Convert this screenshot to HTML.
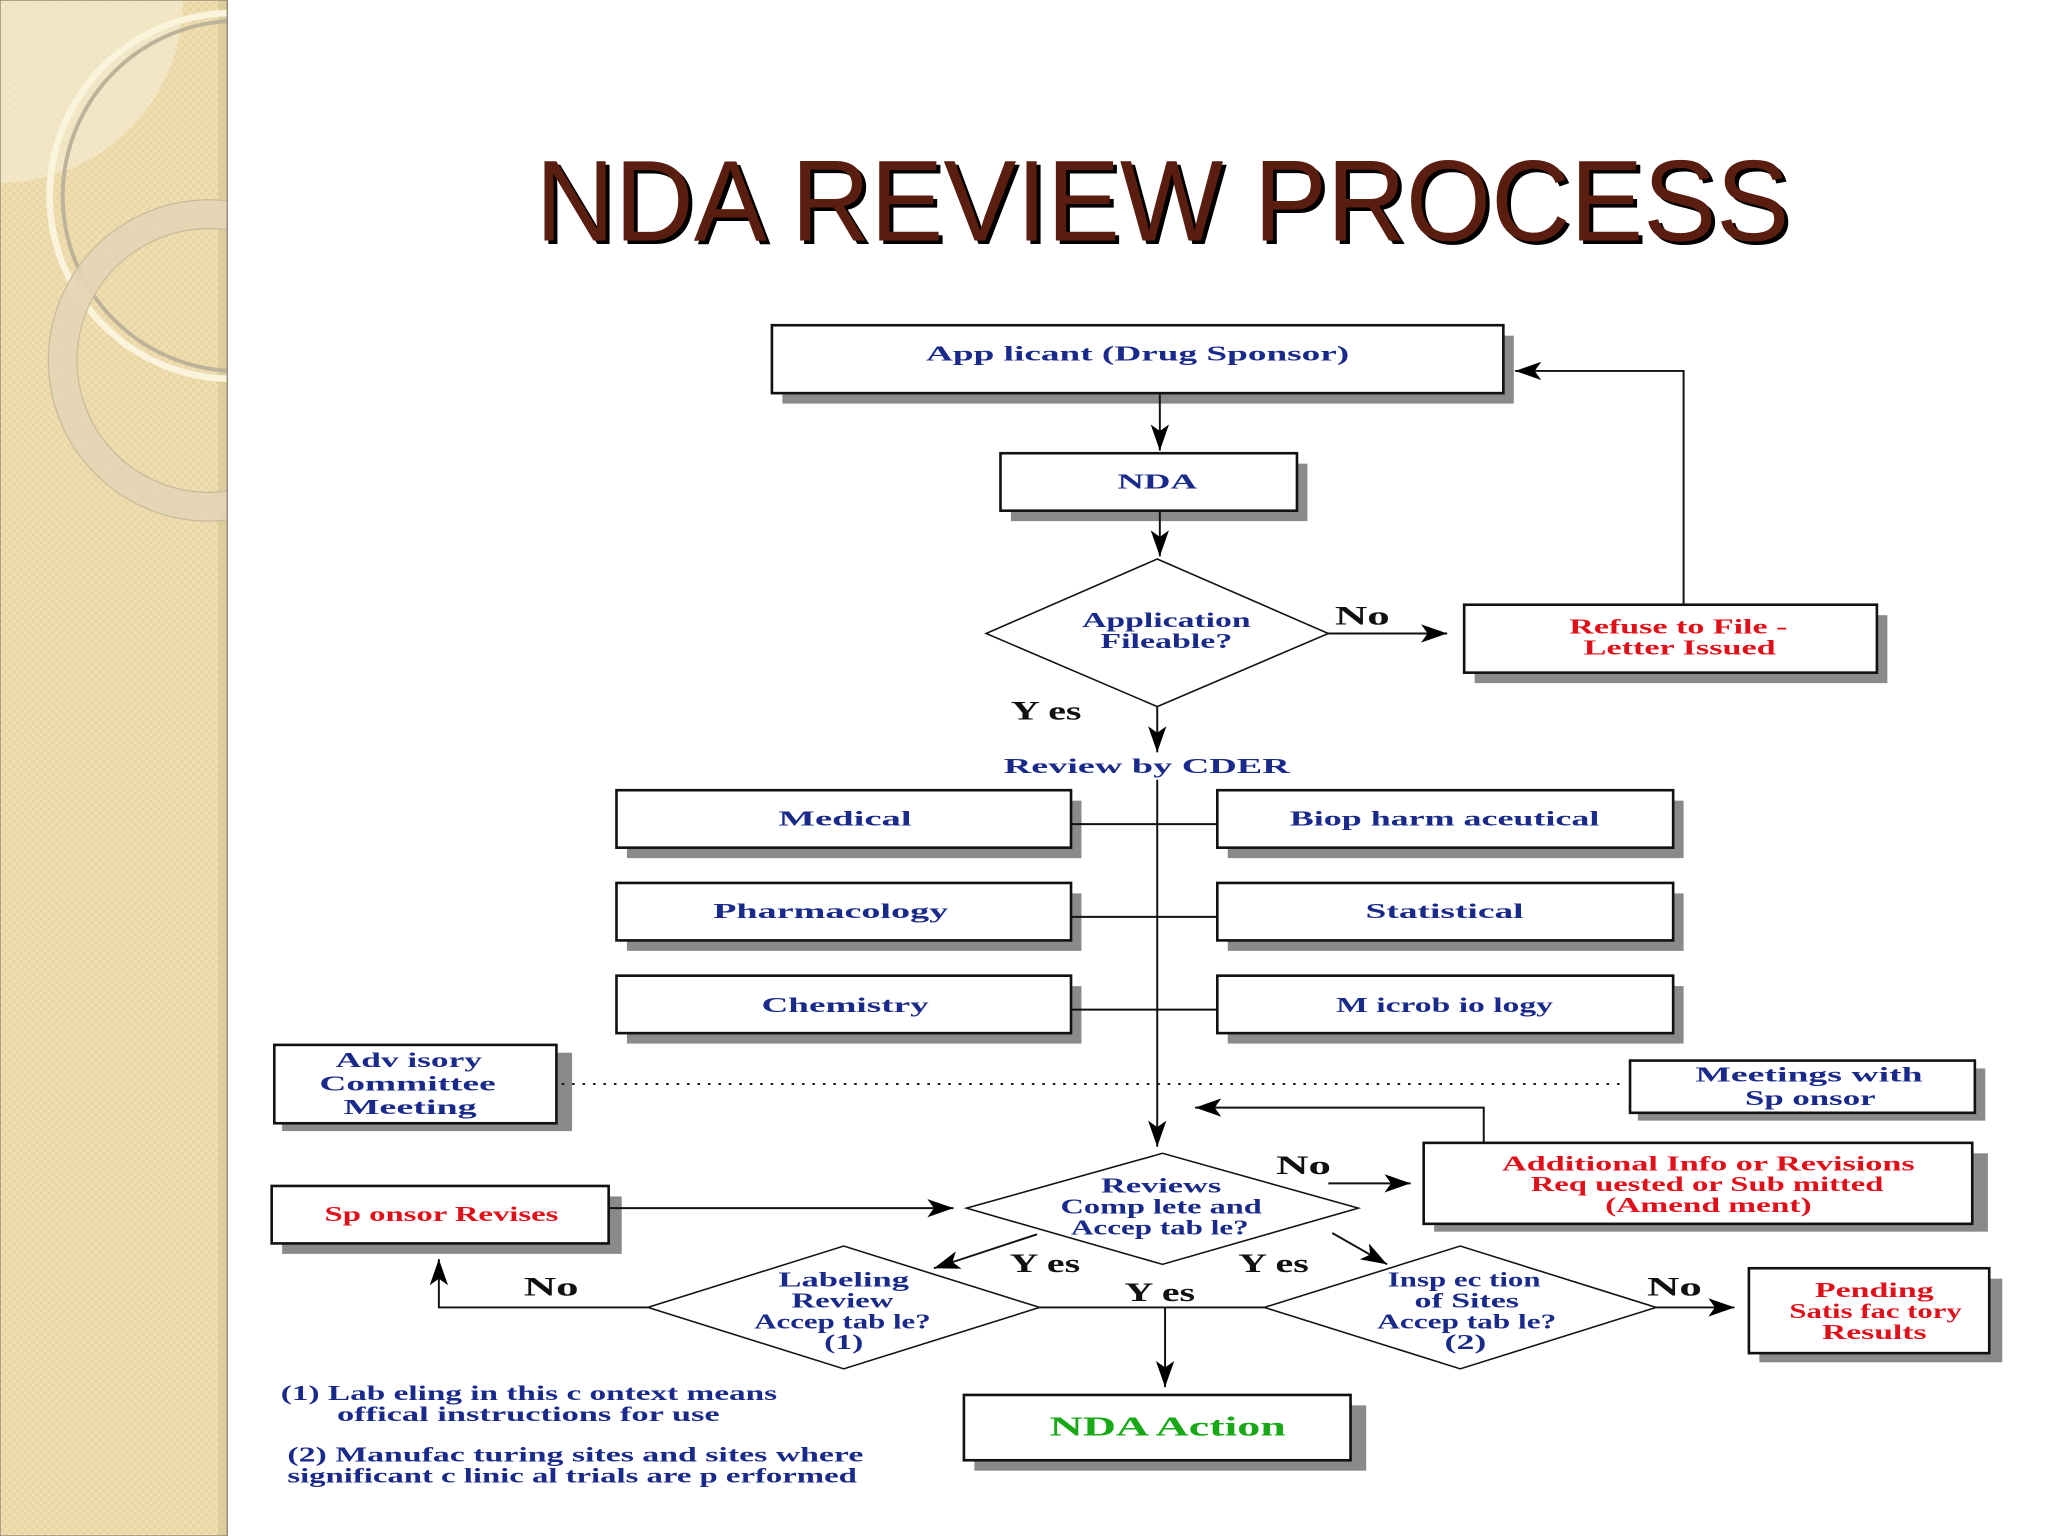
<!DOCTYPE html>
<html><head><meta charset="utf-8"><style>
html,body{margin:0;padding:0;background:#fff;}
svg{display:block;}
.t{font-family:"Liberation Serif",serif;font-weight:bold;font-size:16px;fill:#1a2a8a;text-anchor:middle;}
.r{fill:#e0101a;}
.k{fill:#111;font-size:20px;}
.g{fill:#18a818;font-size:21px;}
.f{text-anchor:start;fill:#1a2a8a;}
</style></head><body>
<svg width="2048" height="1536" viewBox="0 0 1568 1176" xmlns="http://www.w3.org/2000/svg">
<defs>
<marker id="a" viewBox="0 0 20 14" refX="20" refY="7" markerWidth="20" markerHeight="14" markerUnits="userSpaceOnUse" orient="auto"><path d="M0,0 L20,7 L0,14 L5,7 Z" fill="#000"/></marker>
<pattern id="p" width="6" height="6" patternUnits="userSpaceOnUse"><rect width="6" height="6" fill="#efdfb3"/><rect width="3" height="3" fill="#ead6a4"/><rect x="3" y="3" width="3" height="3" fill="#ead6a4"/></pattern>
<clipPath id="c"><rect x="0" y="0" width="174" height="1176"/></clipPath>
</defs>
<g clip-path="url(#c)">
<rect x="0" y="0" width="174" height="1176" fill="url(#p)"/>
<rect x="167" y="0" width="7" height="1176" fill="#ddcc9c"/>
<path d="M0,0 H140 A140,140 0 0 1 0,140 Z" fill="#f4ead0" opacity="0.7"/>
<circle cx="178" cy="150" r="140" fill="none" stroke="#fbf4dc" stroke-width="5"/>
<circle cx="182" cy="150" r="134" fill="none" stroke="#bdb39a" stroke-width="3"/>
<circle cx="160" cy="276" r="112" fill="none" stroke="#e3d6b6" stroke-width="22" opacity="0.9"/>
<circle cx="160" cy="276" r="123" fill="none" stroke="#c9bc9c" stroke-width="1"/>
<circle cx="160" cy="276" r="101" fill="none" stroke="#c9bc9c" stroke-width="1"/>
</g>
<rect x="0" y="0" width="174" height="1176" fill="none" stroke="#8a8070" stroke-width="1"/>

<text x="893" y="187" font-family="Liberation Sans,sans-serif" font-size="88" fill="#000" text-anchor="middle" textLength="960" lengthAdjust="spacingAndGlyphs">NDA REVIEW PROCESS</text>
<text x="890" y="184" font-family="Liberation Sans,sans-serif" font-size="88" fill="#5a1e10" text-anchor="middle" textLength="960" lengthAdjust="spacingAndGlyphs">NDA REVIEW PROCESS</text>

<g fill="#8a8a8a">
<rect x="599" y="257" width="560" height="52"/><rect x="774" y="355" width="227" height="44"/>
<rect x="1129" y="471" width="316" height="52"/>
<rect x="480" y="613" width="348" height="44"/><rect x="940" y="613" width="349" height="44"/>
<rect x="480" y="684" width="348" height="44"/><rect x="940" y="684" width="349" height="44"/>
<rect x="480" y="755" width="348" height="44"/><rect x="940" y="755" width="349" height="44"/>
<rect x="216" y="806" width="222" height="60"/><rect x="1254" y="818" width="266" height="40"/>
<rect x="1098" y="883" width="424" height="60"/><rect x="216" y="916" width="260" height="44"/>
<rect x="746" y="1076" width="300" height="50"/><rect x="1347" y="979" width="186" height="64"/>
</g>
<g fill="#fff" stroke="#111" stroke-width="2">
<rect x="591" y="249" width="560" height="52"/><rect x="766" y="347" width="227" height="44"/>
<rect x="1121" y="463" width="316" height="52"/>
<rect x="472" y="605" width="348" height="44"/><rect x="932" y="605" width="349" height="44"/>
<rect x="472" y="676" width="348" height="44"/><rect x="932" y="676" width="349" height="44"/>
<rect x="472" y="747" width="348" height="44"/><rect x="932" y="747" width="349" height="44"/>
<rect x="210" y="800" width="216" height="60"/><rect x="1248" y="812" width="264" height="40"/>
<rect x="1090" y="875" width="420" height="62"/><rect x="208" y="908" width="258" height="44"/>
<rect x="738" y="1068" width="296" height="50"/><rect x="1339" y="971" width="184" height="65"/>
</g>
<g fill="#fff" stroke="#111" stroke-width="1.2">
<polygon points="755,485 886,428 1017,485 886,541"/>
<polygon points="740,925 890,883 1040,925 890,968"/>
<polygon points="496,1001 646,954 796,1001 646,1048"/>
<polygon points="968,1001 1118,954 1268,1001 1118,1048"/>
</g>
<g stroke="#111" stroke-width="1.5" fill="none">
<line x1="888" y1="301" x2="888" y2="345" marker-end="url(#a)"/>
<line x1="888" y1="391" x2="888" y2="426" marker-end="url(#a)"/>
<line x1="1017" y1="485" x2="1108" y2="485" marker-end="url(#a)"/>
<polyline points="1289,463 1289,284 1160,284" marker-end="url(#a)"/>
<line x1="886" y1="541" x2="886" y2="576" marker-end="url(#a)"/>
<line x1="886" y1="597" x2="886" y2="878" marker-end="url(#a)"/>
<line x1="820" y1="631" x2="932" y2="631"/><line x1="820" y1="702" x2="932" y2="702"/><line x1="820" y1="773" x2="932" y2="773"/>
<line x1="430" y1="830" x2="1244" y2="830" stroke-dasharray="2,6"/>
<polyline points="1136,875 1136,848 915,848" marker-end="url(#a)"/>
<line x1="1017" y1="906" x2="1080" y2="906" marker-end="url(#a)"/>
<line x1="466" y1="925" x2="730" y2="925" marker-end="url(#a)"/>
<line x1="794" y1="945" x2="715" y2="971" marker-end="url(#a)"/>
<line x1="1020" y1="944" x2="1062" y2="968" marker-end="url(#a)"/>
<line x1="796" y1="1001" x2="968" y2="1001"/>
<line x1="892" y1="1001" x2="892" y2="1062" marker-end="url(#a)"/>
<polyline points="496,1001 336,1001 336,964" marker-end="url(#a)"/>
<line x1="1268" y1="1001" x2="1328" y2="1001" marker-end="url(#a)"/>
</g>
<g lengthAdjust="spacingAndGlyphs">
<text class="t" x="871" y="276" textLength="324" lengthAdjust="spacingAndGlyphs">App licant (Drug Sponsor)</text>
<text class="t" x="886" y="374" textLength="61" lengthAdjust="spacingAndGlyphs">NDA</text>
<text class="t" x="893" y="480" textLength="129" lengthAdjust="spacingAndGlyphs">Application</text>
<text class="t" x="893" y="496" textLength="101" lengthAdjust="spacingAndGlyphs">Fileable?</text>
<text class="t r" x="1285" y="485" textLength="167" lengthAdjust="spacingAndGlyphs">Refuse to File -</text>
<text class="t r" x="1286" y="501" textLength="147" lengthAdjust="spacingAndGlyphs">Letter Issued</text>
<text class="t k" x="1043" y="478" textLength="42" lengthAdjust="spacingAndGlyphs">No</text>
<text class="t k" x="801" y="551" textLength="54" lengthAdjust="spacingAndGlyphs">Y es</text>
<text class="t" x="878" y="592" textLength="219" lengthAdjust="spacingAndGlyphs">Review by CDER</text>
<text class="t" x="647" y="632" textLength="102" lengthAdjust="spacingAndGlyphs">Medical</text>
<text class="t" x="1106" y="632" textLength="237" lengthAdjust="spacingAndGlyphs">Biop harm aceutical</text>
<text class="t" x="636" y="703" textLength="180" lengthAdjust="spacingAndGlyphs">Pharmacology</text>
<text class="t" x="1106" y="703" textLength="121" lengthAdjust="spacingAndGlyphs">Statistical</text>
<text class="t" x="647" y="775" textLength="128" lengthAdjust="spacingAndGlyphs">Chemistry</text>
<text class="t" x="1106" y="775" textLength="166" lengthAdjust="spacingAndGlyphs">M icrob io logy</text>
<text class="t" x="313" y="817" textLength="112" lengthAdjust="spacingAndGlyphs">Adv isory</text>
<text class="t" x="312" y="835" textLength="135" lengthAdjust="spacingAndGlyphs">Committee</text>
<text class="t" x="314" y="853" textLength="102" lengthAdjust="spacingAndGlyphs">Meeting</text>
<text class="t" x="1385" y="828" textLength="174" lengthAdjust="spacingAndGlyphs">Meetings with</text>
<text class="t" x="1386" y="846" textLength="100" lengthAdjust="spacingAndGlyphs">Sp onsor</text>
<text class="t" x="889" y="913" textLength="92" lengthAdjust="spacingAndGlyphs">Reviews</text>
<text class="t" x="889" y="929" textLength="154" lengthAdjust="spacingAndGlyphs">Comp lete and</text>
<text class="t" x="888" y="945" textLength="136" lengthAdjust="spacingAndGlyphs">Accep tab le?</text>
<text class="t k" x="998" y="899" textLength="42" lengthAdjust="spacingAndGlyphs">No</text>
<text class="t r" x="1308" y="896" textLength="316" lengthAdjust="spacingAndGlyphs">Additional Info or Revisions</text>
<text class="t r" x="1307" y="912" textLength="270" lengthAdjust="spacingAndGlyphs">Req uested or Sub mitted</text>
<text class="t r" x="1308" y="928" textLength="158" lengthAdjust="spacingAndGlyphs">(Amend ment)</text>
<text class="t r" x="338" y="935" textLength="179" lengthAdjust="spacingAndGlyphs">Sp onsor Revises</text>
<text class="t k" x="800" y="974" textLength="54" lengthAdjust="spacingAndGlyphs">Y es</text>
<text class="t k" x="975" y="974" textLength="54" lengthAdjust="spacingAndGlyphs">Y es</text>
<text class="t k" x="888" y="996" textLength="54" lengthAdjust="spacingAndGlyphs">Y es</text>
<text class="t k" x="422" y="992" textLength="42" lengthAdjust="spacingAndGlyphs">No</text>
<text class="t k" x="1282" y="992" textLength="42" lengthAdjust="spacingAndGlyphs">No</text>
<text class="t" x="646" y="985" textLength="100" lengthAdjust="spacingAndGlyphs">Labeling</text>
<text class="t" x="645" y="1001" textLength="78" lengthAdjust="spacingAndGlyphs">Review</text>
<text class="t" x="645" y="1017" textLength="135" lengthAdjust="spacingAndGlyphs">Accep tab le?</text>
<text class="t" x="646" y="1033" textLength="30" lengthAdjust="spacingAndGlyphs">(1)</text>
<text class="t" x="1121" y="985" textLength="117" lengthAdjust="spacingAndGlyphs">Insp ec tion</text>
<text class="t" x="1123" y="1001" textLength="80" lengthAdjust="spacingAndGlyphs">of Sites</text>
<text class="t" x="1123" y="1017" textLength="137" lengthAdjust="spacingAndGlyphs">Accep tab le?</text>
<text class="t" x="1122" y="1033" textLength="32" lengthAdjust="spacingAndGlyphs">(2)</text>
<text class="t r" x="1435" y="993" textLength="91" lengthAdjust="spacingAndGlyphs">Pending</text>
<text class="t r" x="1436" y="1009" textLength="132" lengthAdjust="spacingAndGlyphs">Satis fac tory</text>
<text class="t r" x="1435" y="1025" textLength="80" lengthAdjust="spacingAndGlyphs">Results</text>
<text class="t g" x="894" y="1099" textLength="181" lengthAdjust="spacingAndGlyphs">NDA Action</text>
<text class="t f" x="215" y="1072" textLength="380" lengthAdjust="spacingAndGlyphs">(1) Lab eling in this c ontext means</text>
<text class="t f" x="258" y="1088" textLength="293" lengthAdjust="spacingAndGlyphs">offical instructions for use</text>
<text class="t f" x="220" y="1119" textLength="441" lengthAdjust="spacingAndGlyphs">(2) Manufac turing sites and sites where</text>
<text class="t f" x="220" y="1135" textLength="436" lengthAdjust="spacingAndGlyphs">significant c linic al trials are p erformed</text>
</g>
</svg>
</body></html>
